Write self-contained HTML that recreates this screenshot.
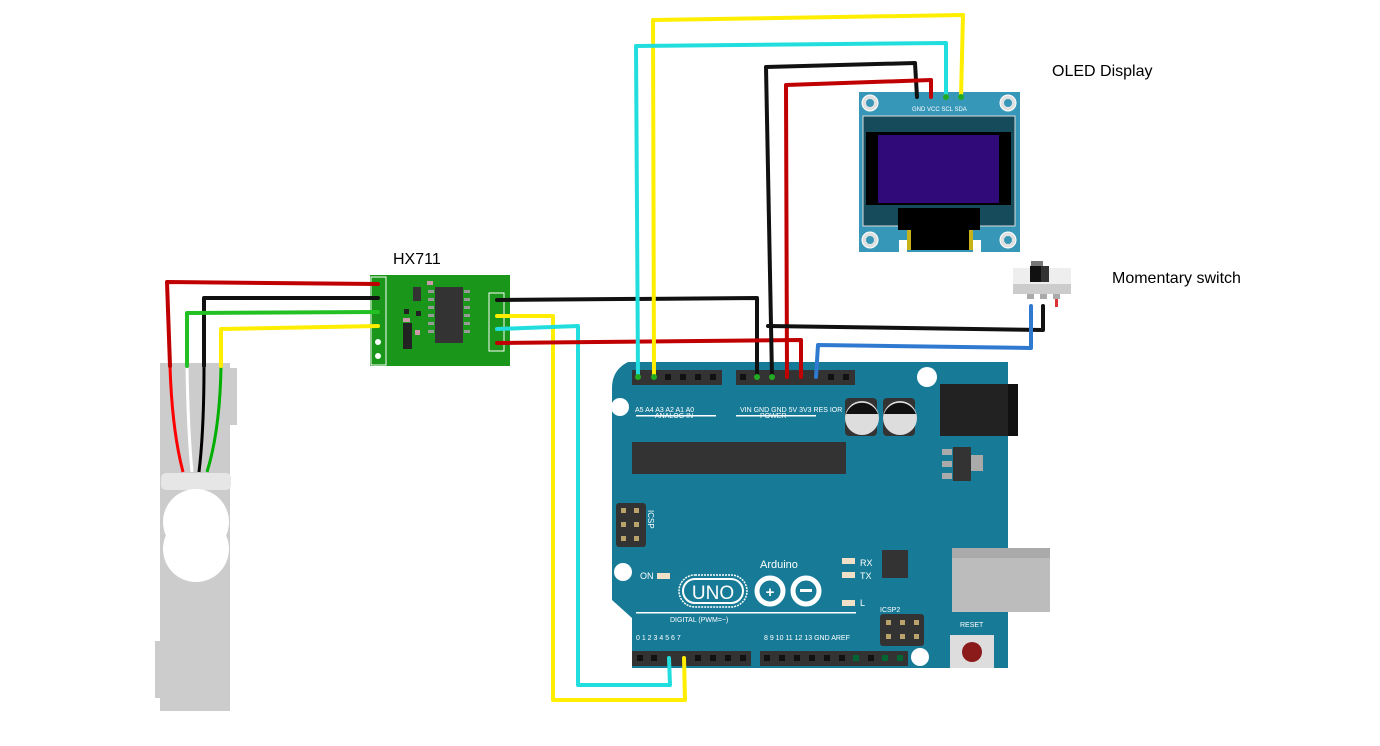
<!DOCTYPE html>
<html><head><meta charset="utf-8"><style>
html,body{margin:0;padding:0;background:#fff;width:1380px;height:746px;overflow:hidden}
svg{display:block}
text{font-family:"Liberation Sans",sans-serif}
</style></head><body>
<svg width="1380" height="746" viewBox="0 0 1380 746" xmlns="http://www.w3.org/2000/svg">
<!-- Load cell -->
<rect x="160" y="363" width="70" height="348" fill="#cccccc"/>
<rect x="228" y="368" width="9" height="57" fill="#cccccc"/>
<rect x="155" y="641" width="7" height="57" fill="#cccccc"/>
<rect x="161" y="473" width="70" height="17" rx="5" fill="#e6e6e6"/>
<circle cx="196" cy="522" r="33" fill="#fff"/>
<circle cx="196" cy="549" r="33" fill="#fff"/>
<g fill="none" stroke-width="3">
<path d="M170 366 Q172 430 183 472" stroke="#ff0000"/>
<path d="M187 366 Q188 430 192 472" stroke="#ffffff"/>
<path d="M204 366 Q204 430 199 472" stroke="#000"/>
<path d="M221 366 Q220 430 207 472" stroke="#00b000"/>
</g>
<!-- HX711 -->
<rect x="370" y="275" width="140" height="91" fill="#1a961a"/>
<rect x="371" y="277" width="15" height="88" fill="none" stroke="#fff" stroke-width="1"/>
<rect x="489" y="293" width="15" height="58" fill="none" stroke="#fff" stroke-width="1"/>
<rect x="435" y="287" width="28" height="56" fill="#333"/>
<g fill="#999"><rect x="428" y="290" width="6" height="3"/><rect x="428" y="298" width="6" height="3"/><rect x="428" y="306" width="6" height="3"/><rect x="428" y="314" width="6" height="3"/><rect x="428" y="322" width="6" height="3"/><rect x="428" y="330" width="6" height="3"/><rect x="464" y="290" width="6" height="3"/><rect x="464" y="298" width="6" height="3"/><rect x="464" y="306" width="6" height="3"/><rect x="464" y="314" width="6" height="3"/><rect x="464" y="322" width="6" height="3"/><rect x="464" y="330" width="6" height="3"/></g>
<rect x="413" y="287" width="8" height="14" fill="#333"/>
<rect x="403" y="323" width="9" height="26" fill="#222"/>
<rect x="404" y="309" width="5" height="5" fill="#222"/><rect x="416" y="311" width="5" height="5" fill="#222"/>
<rect x="403" y="318" width="7" height="4" fill="#c9a"/><rect x="415" y="330" width="5" height="5" fill="#c9a"/><rect x="427" y="281" width="6" height="4" fill="#c9a"/>
<g fill="#fff"><circle cx="378" cy="342" r="3"/><circle cx="378" cy="356" r="3"/></g>
<text x="393" y="264" font-size="16" fill="#000">HX711</text>
<!-- Arduino -->
<path d="M628 362 H1008 V668 H632 V618 L612 600 V388 Q612 370 628 362Z" fill="#177b97"/>
<rect x="632" y="370" width="90" height="15" fill="#333"/>
<rect x="736" y="370" width="119" height="15" fill="#333"/>
<g fill="#111"><rect x="665" y="374" width="6" height="6"/><rect x="680" y="374" width="6" height="6"/><rect x="695" y="374" width="6" height="6"/><rect x="710" y="374" width="6" height="6"/><rect x="740" y="374" width="6" height="6"/><rect x="828" y="374" width="6" height="6"/><rect x="843" y="374" width="6" height="6"/></g>
<g fill="#fff" font-size="7" font-family="Liberation Mono">
<text x="635" y="412">A5  A4  A3  A2  A1  A0</text>
<text x="740" y="412">VIN GND GND 5V 3V3 RES IOR</text>
<text x="655" y="418">ANALOG IN</text><text x="760" y="418">POWER</text>
</g>
<rect x="636" y="415" width="80" height="1.5" fill="#fff"/><rect x="736" y="415" width="80" height="1.5" fill="#fff"/>
<circle cx="927" cy="377" r="10" fill="#fff"/>
<circle cx="620" cy="407" r="9" fill="#fff"/>
<circle cx="623" cy="572" r="9" fill="#fff"/>
<circle cx="920" cy="657" r="9" fill="#fff"/>
<rect x="845" y="398" width="32" height="38" rx="4" fill="#333"/><circle cx="862" cy="418" r="17" fill="#ddd"/><path d="M846 414 A17 17 0 0 1 878 414Z" fill="#111"/>
<rect x="883" y="398" width="32" height="38" rx="4" fill="#333"/><circle cx="900" cy="418" r="17" fill="#ddd"/><path d="M884 414 A17 17 0 0 1 916 414Z" fill="#111"/>
<rect x="940" y="384" width="78" height="52" fill="#222"/><rect x="1008" y="384" width="10" height="52" fill="#111"/>
<rect x="632" y="442" width="214" height="32" fill="#333"/>
<rect x="953" y="447" width="18" height="34" fill="#333"/><rect x="971" y="455" width="12" height="16" fill="#aaa"/>
<g fill="#aaa"><rect x="942" y="449" width="10" height="6"/><rect x="942" y="461" width="10" height="6"/><rect x="942" y="473" width="10" height="6"/></g>
<rect x="616" y="503" width="30" height="44" rx="3" fill="#333"/>
<g fill="#b9a36a"><rect x="621" y="508" width="5" height="5"/><rect x="634" y="508" width="5" height="5"/><rect x="621" y="522" width="5" height="5"/><rect x="634" y="522" width="5" height="5"/><rect x="621" y="536" width="5" height="5"/><rect x="634" y="536" width="5" height="5"/></g>
<text x="648" y="510" font-size="8" fill="#fff" transform="rotate(90 648 510)">ICSP</text>
<rect x="952" y="548" width="98" height="64" fill="#bcbcbc"/><rect x="952" y="548" width="98" height="10" fill="#aaa"/>
<rect x="882" y="550" width="26" height="28" fill="#333"/>
<g fill="#f0e0c8"><rect x="842" y="558" width="13" height="6"/><rect x="842" y="572" width="13" height="6"/><rect x="842" y="600" width="13" height="6"/><rect x="657" y="573" width="13" height="6"/></g>
<g fill="#fff" font-size="9" font-family="Liberation Mono"><text x="860" y="566">RX</text><text x="860" y="579">TX</text><text x="860" y="606">L</text><text x="640" y="579">ON</text><text x="760" y="568" font-size="11">Arduino</text></g>
<rect x="679" y="575" width="68" height="32" rx="16" fill="none" stroke="#fff" stroke-width="1.5" stroke-dasharray="2 1"/>
<rect x="683" y="579" width="60" height="24" rx="12" fill="none" stroke="#fff" stroke-width="2"/>
<text x="713" y="599" font-size="19" fill="#fff" text-anchor="middle">UNO</text>
<circle cx="770" cy="591" r="13" fill="none" stroke="#fff" stroke-width="5"/><circle cx="806" cy="591" r="13" fill="none" stroke="#fff" stroke-width="5"/>
<text x="770" y="597" font-size="15" fill="#fff" text-anchor="middle" font-weight="bold">+</text><rect x="800" y="589" width="12" height="3" fill="#fff"/>
<rect x="636" y="612" width="220" height="1.5" fill="#fff"/>
<g fill="#fff" font-size="7" font-family="Liberation Mono"><text x="636" y="640">0  1  2  3  4  5  6  7</text><text x="764" y="640">8 9 10 11 12 13 GND AREF</text><text x="670" y="622">DIGITAL (PWM=~)</text><text x="880" y="612">ICSP2</text><text x="960" y="627">RESET</text></g>
<rect x="880" y="614" width="44" height="32" rx="3" fill="#333"/>
<g fill="#b9a36a"><rect x="886" y="620" width="5" height="5"/><rect x="900" y="620" width="5" height="5"/><rect x="914" y="620" width="5" height="5"/><rect x="886" y="634" width="5" height="5"/><rect x="900" y="634" width="5" height="5"/><rect x="914" y="634" width="5" height="5"/></g>
<rect x="632" y="651" width="119" height="15" fill="#333"/><rect x="760" y="651" width="148" height="15" fill="#333"/>
<g fill="#111"><rect x="637" y="655" width="6" height="6"/><rect x="651" y="655" width="6" height="6"/><rect x="695" y="655" width="6" height="6"/><rect x="710" y="655" width="6" height="6"/><rect x="725" y="655" width="6" height="6"/><rect x="740" y="655" width="6" height="6"/><rect x="764" y="655" width="6" height="6"/><rect x="779" y="655" width="6" height="6"/><rect x="794" y="655" width="6" height="6"/><rect x="809" y="655" width="6" height="6"/><rect x="824" y="655" width="6" height="6"/><rect x="839" y="655" width="6" height="6"/><rect x="868" y="655" width="6" height="6"/></g>
<g fill="#063"><rect x="853" y="655" width="6" height="6"/><rect x="882" y="655" width="6" height="6"/><rect x="897" y="655" width="6" height="6"/></g>
<rect x="950" y="635" width="44" height="33" fill="#ddd"/><circle cx="972" cy="652" r="10" fill="#8b1a1a"/>
<!-- OLED -->
<rect x="859" y="92" width="161" height="160" fill="#3797b8"/>
<rect x="863" y="116" width="152" height="110" fill="#164b5b" stroke="#ddd" stroke-width="1"/>
<rect x="866" y="132" width="145" height="73" fill="#000"/>
<rect x="878" y="135" width="121" height="68" fill="#2f0a78"/>
<rect x="907" y="208" width="66" height="42" fill="#c8b21a"/>
<rect x="898" y="208" width="82" height="22" fill="#000"/><rect x="911" y="228" width="58" height="22" fill="#000"/>
<rect x="899" y="240" width="8" height="12" fill="#fff"/><rect x="973" y="240" width="8" height="12" fill="#fff"/>
<g fill="#e0e0e0" stroke="#fff" stroke-width="1"><circle cx="870" cy="103" r="8"/><circle cx="1008" cy="103" r="8"/><circle cx="870" cy="240" r="8"/><circle cx="1008" cy="240" r="8"/></g>
<g fill="#3797b8"><circle cx="870" cy="103" r="4"/><circle cx="1008" cy="103" r="4"/><circle cx="870" cy="240" r="4"/><circle cx="1008" cy="240" r="4"/></g>
<text x="912" y="111" font-size="6" fill="#fff" font-family="Liberation Serif">GND VCC SCL SDA</text>
<text x="1052" y="76" font-size="16" fill="#000">OLED Display</text>
<!-- Switch -->
<rect x="1031" y="261" width="12" height="12" fill="#777"/>
<rect x="1013" y="268" width="58" height="16" fill="#eee"/><rect x="1013" y="284" width="58" height="10" fill="#ccc"/>
<rect x="1030" y="266" width="19" height="16" fill="#111"/><rect x="1041" y="266" width="8" height="16" fill="#333"/>
<g fill="#aaa"><rect x="1027" y="294" width="7" height="5"/><rect x="1040" y="294" width="7" height="5"/><rect x="1053" y="294" width="7" height="5"/></g>
<rect x="1055" y="299" width="3" height="8" fill="#d33"/>
<text x="1112" y="283" font-size="16" fill="#000">Momentary switch</text>
<!-- Wires -->
<g fill="none" stroke-width="4" stroke-linejoin="round" stroke-linecap="round">
<path d="M378 284 L167 282 L170 366" stroke="#c00000"/>
<path d="M378 298 L204 298 L204 366" stroke="#111"/>
<path d="M378 312 L187 313 L187 366" stroke="#22c022"/>
<path d="M378 326 L221 329 L221 366" stroke="#ffee00"/>
<path d="M497 300 L757 298 L757 377" stroke="#111"/>
<path d="M497 316 L553 316 L553 700 L685 700 L684 658" stroke="#ffee00"/>
<path d="M497 329 L578 326 L578 685 L670 685 L669 658" stroke="#22dddd"/>
<path d="M497 343 L801 340 L801 377" stroke="#c00000"/>
<path d="M654 377 L653 20 L963 15 L961 97" stroke="#ffee00"/>
<path d="M638 377 L636 46 L946 43 L946 97" stroke="#22dddd"/>
<path d="M772 377 L766 67 L915 63 L917 97" stroke="#111"/>
<path d="M787 377 L786 85 L931 80 L931 97" stroke="#c00000"/>
<path d="M1043 306 L1043 330 L768 326" stroke="#111"/>
<path d="M1031 306 L1031 348 L818 345 L816 377" stroke="#2f7ad0"/>
</g>
<g fill="#2a2"><circle cx="638" cy="377" r="3"/><circle cx="654" cy="377" r="3"/><circle cx="757" cy="377" r="3"/><circle cx="772" cy="377" r="3"/><circle cx="946" cy="97" r="3"/><circle cx="961" cy="97" r="3"/></g>
</svg>
</body></html>
